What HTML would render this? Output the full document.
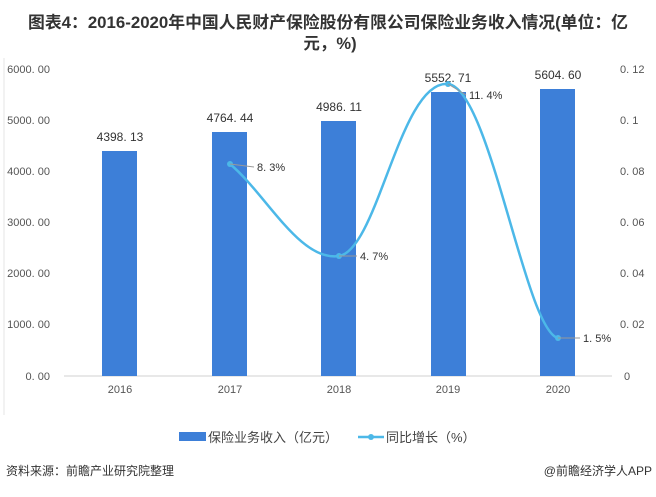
<!DOCTYPE html>
<html><head><meta charset="utf-8"><style>
body{margin:0;background:#fff;width:656px;height:492px;overflow:hidden;font-family:"Liberation Sans","Noto Sans CJK SC",sans-serif;}
</style></head><body>
<svg width="656" height="492" xmlns="http://www.w3.org/2000/svg" style="font-family:'Liberation Sans','Noto Sans CJK SC',sans-serif">
<text x="28" y="28" textLength="600" lengthAdjust="spacingAndGlyphs" font-size="16.5" font-weight="bold" fill="#333">图表4：2016-2020年中国人民财产保险股份有限公司保险业务收入情况(单位：亿</text>
<text x="330" y="49" text-anchor="middle" font-size="16.5" font-weight="bold" fill="#333">元，%)</text>
<line x1="4" y1="58" x2="4" y2="415" stroke="#e6e6e6"/>
<g font-size="11" fill="#555">
<text x="50" y="73" text-anchor="end">6000. 00</text>
<text x="50" y="124" text-anchor="end">5000. 00</text>
<text x="50" y="175" text-anchor="end">4000. 00</text>
<text x="50" y="226" text-anchor="end">3000. 00</text>
<text x="50" y="277" text-anchor="end">2000. 00</text>
<text x="50" y="328" text-anchor="end">1000. 00</text>
<text x="50" y="380" text-anchor="end">0. 00</text>
<text x="620" y="73">0. 12</text>
<text x="620" y="124">0. 1</text>
<text x="620" y="175">0. 08</text>
<text x="620" y="226">0. 06</text>
<text x="620" y="277">0. 04</text>
<text x="620" y="328">0. 02</text>
<text x="624" y="380">0</text>
</g>
<line x1="64" y1="376" x2="612" y2="376" stroke="#d0d0d0"/>
<g fill="#3d7fd8">
<rect x="102" y="151" width="35" height="225"/>
<rect x="212" y="132" width="35" height="244"/>
<rect x="321" y="121" width="35" height="255"/>
<rect x="431" y="92" width="35" height="284"/>
<rect x="540" y="89" width="35" height="287"/>
</g>
<g font-size="12" fill="#333" text-anchor="middle">
<text x="120" y="141">4398. 13</text>
<text x="230" y="122">4764. 44</text>
<text x="339" y="111">4986. 11</text>
<text x="448" y="82">5552. 71</text>
<text x="558" y="79">5604. 60</text>
</g>
<path d="M230,164 C266,194 300,262 339,256 C378,250 400,80 448,84 C490,88 525,330 558,338" fill="none" stroke="#4cb8e8" stroke-width="2.5"/>
<g fill="#4cb8e8"><circle cx="230" cy="164" r="3"/><circle cx="339" cy="256" r="3"/><circle cx="448" cy="84" r="3"/><circle cx="558" cy="338" r="3"/></g>
<g stroke="#999" stroke-width="1"><line x1="230" y1="164" x2="254" y2="167"/><line x1="339" y1="256" x2="357" y2="256"/><line x1="448" y1="84" x2="466" y2="95"/><line x1="558" y1="338" x2="580" y2="338"/></g>
<g font-size="11" fill="#333">
<text x="257" y="171">8. 3%</text>
<text x="360" y="260">4. 7%</text>
<text x="469" y="99">11. 4%</text>
<text x="583" y="342">1. 5%</text>
</g>
<g font-size="11" fill="#555" text-anchor="middle">
<text x="120" y="393">2016</text><text x="230" y="393">2017</text><text x="339" y="393">2018</text><text x="448" y="393">2019</text><text x="558" y="393">2020</text>
</g>
<rect x="179" y="432" width="27" height="9" fill="#3d7fd8"/>
<text x="208" y="442" font-size="13" fill="#444">保险业务收入（亿元）</text>
<line x1="358" y1="437" x2="384" y2="437" stroke="#4cb8e8" stroke-width="2.5"/>
<circle cx="371" cy="437" r="3" fill="#4cb8e8"/>
<text x="386" y="442" font-size="13" fill="#444">同比增长（%）</text>
<text x="6" y="475" font-size="12" fill="#333">资料来源：前瞻产业研究院整理</text>
<text x="652" y="475" font-size="12" fill="#333" text-anchor="end">@前瞻经济学人APP</text>
</svg>
</body></html>
